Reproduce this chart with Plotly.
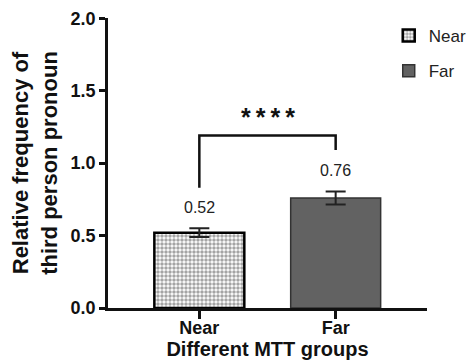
import plotly.graph_objects as go

categories = ["Near", "Far"]
means = [0.52, 0.76]
errors = [0.03, 0.045]
value_labels = ["0.52", "0.76"]
y_ticks = [0.0, 0.5, 1.0, 1.5, 2.0]
y_tick_labels = ["0.0", "0.5", "1.0", "1.5", "2.0"]
sig_label = "*\u2009*\u2009*\u2009*"
bracket_y = 1.19
bracket_left_bottom = 0.83
bracket_right_bottom = 1.09

xpos = [0, 1]
FONT = "Liberation Sans, Arial, sans-serif"

fig = go.Figure()

fig.add_trace(go.Bar(
    x=[xpos[0]], y=[means[0]], name=categories[0], width=0.66, legendgroup="a",
    marker=dict(color="white", line=dict(color="black", width=2.5),
                pattern=dict(shape=".", size=4, solidity=0.6, fgcolor="#4a4a4a", bgcolor="white")),
    error_y=dict(type="data", array=[errors[0]], color="#222", thickness=2, width=10),
))
fig.add_trace(go.Bar(
    x=[xpos[1]], y=[means[1]], name=categories[1], width=0.66, legendgroup="b",
    marker=dict(color="#626262", line=dict(color="#333333", width=1.5)),
    error_y=dict(type="data", array=[errors[1]], color="#222", thickness=2, width=10),
))

for xp, m, e, lab in zip(xpos, means, errors, value_labels):
    fig.add_annotation(x=xp, y=m + e, text=lab, showarrow=False, yanchor="bottom", yshift=10,
                       font=dict(family=FONT, size=16, color="#222"))

# significance bracket
fig.add_trace(go.Scatter(
    x=[xpos[0], xpos[0], xpos[1], xpos[1]],
    y=[bracket_left_bottom, bracket_y, bracket_y, bracket_right_bottom],
    mode="lines", line=dict(color="#111", width=2.5), showlegend=False, hoverinfo="skip"))
fig.add_annotation(x=(xpos[0] + xpos[1]) / 2, y=bracket_y, text="<b>" + sig_label + "</b>", showarrow=False,
                   yanchor="bottom", yshift=3, font=dict(family=FONT, size=25, color="#111"))

fig.update_layout(
    width=474, height=364,
    margin=dict(l=100, r=39, t=10, b=64),
    plot_bgcolor="white", paper_bgcolor="white",
    font=dict(family=FONT, color="#111"),
    legend=dict(x=0.88, y=1.0, xanchor="left", yanchor="top", bgcolor="rgba(0,0,0,0)",
                font=dict(family=FONT, size=17, color="#222"), tracegroupgap=10, itemwidth=30),
    xaxis=dict(range=[-0.67, 1.67], tickmode="array", tickvals=xpos,
               ticktext=["<b>" + c + "</b>" for c in categories],
               showline=True, linecolor="#111", linewidth=2.5, ticks="outside", ticklen=8,
               tickwidth=2.5, tickcolor="#111", showgrid=False, zeroline=False,
               ticklabelstandoff=-6, automargin=False,
               tickfont=dict(family=FONT, size=18, color="#111"),
               title=dict(text="<b>Different MTT groups</b>", font=dict(family=FONT, size=20, color="#111"), standoff=2)),
    yaxis=dict(range=[0, 2.002], tickmode="array", tickvals=y_ticks, ticktext=["<b>" + t + "</b>" for t in y_tick_labels],
               showline=True, linecolor="#111", linewidth=2.5, ticks="outside", ticklen=6,
               tickwidth=2.5, tickcolor="#111", showgrid=False, zeroline=False, automargin=False,
               tickfont=dict(family=FONT, size=18, color="#111"),
               title=dict(text="<b>Relative frequency of<br>third person pronoun</b>",
                          font=dict(family=FONT, size=22, color="#111"), standoff=8)),
)

fig.write_html("out.html")
